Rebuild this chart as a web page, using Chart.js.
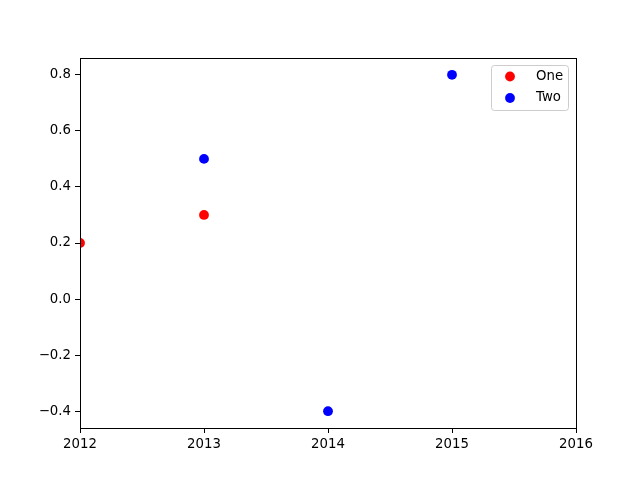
<!DOCTYPE html>
<html><head><meta charset="utf-8">
<script src="https://cdn.jsdelivr.net/npm/chart.js@4/dist/chart.umd.min.js"></script>
<style>html,body{margin:0;padding:0;background:#fff}#wrap{width:640px;height:480px}</style>
</head><body><div id="wrap"><canvas id="c" width="640" height="480"></canvas></div>
<script>
const seriesNames = ["One", "Two"];
const seriesColors = ["#ff0000", "#0000ff"];
const oneX = [2012, 2013];
const oneY = [0.2, 0.3];
const twoX = [2013, 2014, 2015];
const twoY = [0.5, -0.4, 0.8];
const xTicks = [2012, 2013, 2014, 2015, 2016];
const yTicks = [-0.4, -0.2, 0.0, 0.2, 0.4, 0.6, 0.8];

const FONT = {family: "'DejaVu Sans', sans-serif", size: 13.3};
const RAD = 4.9;

const frame = {
  id: 'frame',
  afterDatasetsDraw(chart) {
    const {ctx, chartArea: a} = chart;
    ctx.save();
    ctx.strokeStyle = '#000'; ctx.lineWidth = 1;
    ctx.strokeRect(Math.round(a.left) + 0.5, Math.round(a.top) + 0.5, Math.round(a.right - a.left), Math.round(a.bottom - a.top));
    // legend
    const bx = 491.5, by = 65.5, bw = 77, bh = 45, r = 3;
    ctx.beginPath();
    ctx.moveTo(bx + r, by); ctx.lineTo(bx + bw - r, by); ctx.quadraticCurveTo(bx + bw, by, bx + bw, by + r);
    ctx.lineTo(bx + bw, by + bh - r); ctx.quadraticCurveTo(bx + bw, by + bh, bx + bw - r, by + bh);
    ctx.lineTo(bx + r, by + bh); ctx.quadraticCurveTo(bx, by + bh, bx, by + bh - r);
    ctx.lineTo(bx, by + r); ctx.quadraticCurveTo(bx, by, bx + r, by);
    ctx.closePath();
    ctx.fillStyle = 'rgba(255,255,255,0.8)'; ctx.fill();
    ctx.strokeStyle = '#cccccc'; ctx.stroke();
    ctx.font = FONT.size + "px " + FONT.family;
    ctx.textBaseline = 'middle'; ctx.textAlign = 'left';
    seriesNames.forEach((n, i) => {
      const y = 76.5 + i * 21.5;
      ctx.beginPath(); ctx.arc(510, y, RAD, 0, Math.PI * 2);
      ctx.fillStyle = seriesColors[i]; ctx.fill();
      ctx.fillStyle = '#000'; ctx.fillText(n, 536, y);
    });
    ctx.restore();
  }
};

const fmtY = v => (Math.abs(v) < 1e-9 ? 0 : v).toFixed(1).replace('-', '\u2212');

new Chart(document.getElementById('c'), {
  type: 'scatter',
  data: {
    datasets: [
      {label: seriesNames[0], data: oneX.map((x, i) => ({x, y: oneY[i]})), backgroundColor: seriesColors[0], borderWidth: 0, pointRadius: RAD, clip: 0},
      {label: seriesNames[1], data: twoX.map((x, i) => ({x, y: twoY[i]})), backgroundColor: seriesColors[1], borderWidth: 0, pointRadius: RAD, clip: 0}
    ]
  },
  options: {
    responsive: false, animation: false, devicePixelRatio: 1,
    layout: {padding: {left: 0, top: 58, right: 64, bottom: 0}},
    plugins: {legend: {display: false}, tooltip: {enabled: false}},
    scales: {
      x: {
        type: 'linear', min: 2012, max: 2016,
        afterFit(s) { s.height = 52; },
        afterBuildTicks(s) { s.ticks = xTicks.map(v => ({value: v})); },
        grid: {drawOnChartArea: false, drawTicks: true, tickLength: 5, color: '#000'},
        border: {display: false},
        ticks: {color: '#000', font: FONT, padding: 4, maxRotation: 0, autoSkip: false, callback: v => String(v)}
      },
      y: {
        min: -0.46, max: 0.86,
        afterFit(s) { s.width = 80; },
        afterBuildTicks(s) { s.ticks = yTicks.map(v => ({value: v})); },
        grid: {drawOnChartArea: false, drawTicks: true, tickLength: 5, color: '#000'},
        border: {display: false},
        ticks: {color: '#000', font: FONT, padding: 4, autoSkip: false, callback: v => fmtY(v)}
      }
    }
  },
  plugins: [frame]
});
</script></body></html>
